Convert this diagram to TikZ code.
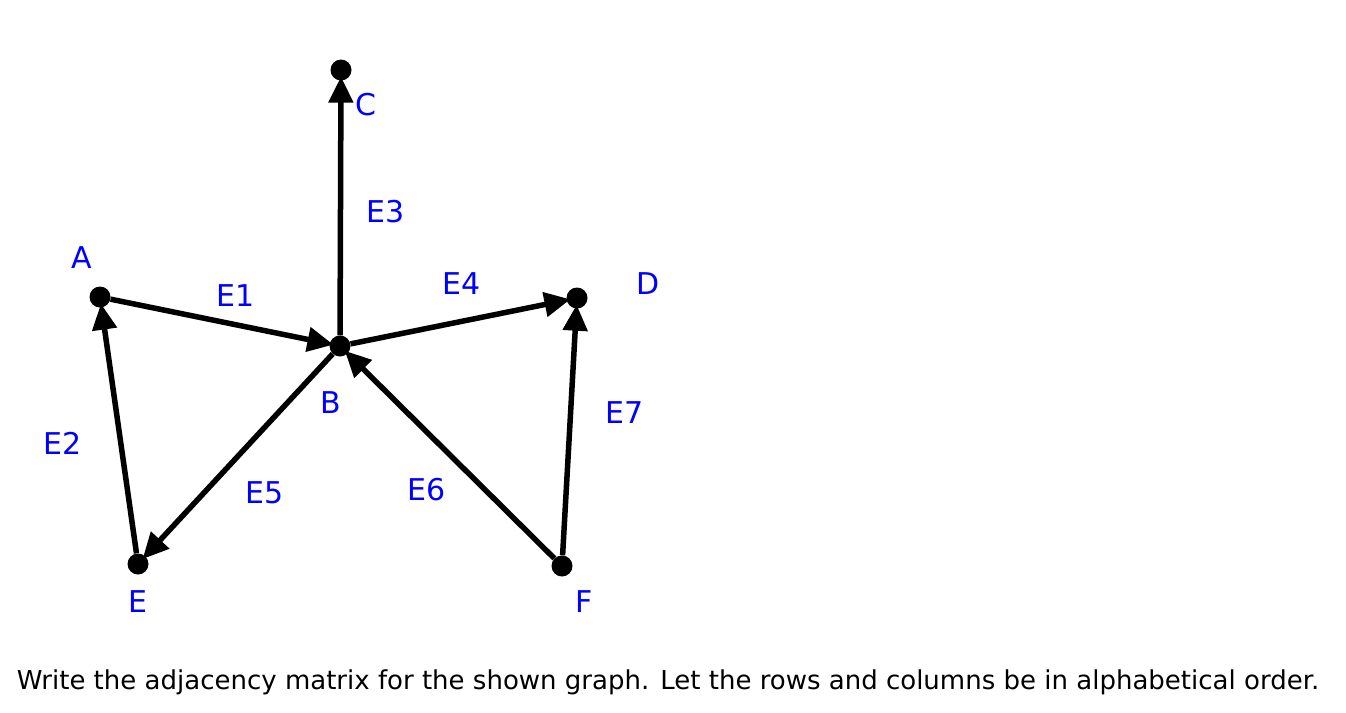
\documentclass[tikz,border=0pt]{standalone}
\usepackage{fontspec}
\setmainfont{DejaVu Sans}
\usetikzlibrary{arrows.meta}
\begin{document}
\begin{tikzpicture}[x=1pt,y=-1pt,
  vert/.style={circle,fill=black,inner sep=0pt,minimum size=21pt},
  lab/.style={text=blue,font=\fontsize{30}{30}\selectfont,inner sep=0pt},
  edge/.style={line width=5.5pt,-{Triangle[length=26pt,width=24pt]},shorten >=-4pt}]
\useasboundingbox (0,0) rectangle (1346,712);
\node[vert] (A) at (100,297) {};
\node[vert] (B) at (340,346) {};
\node[vert] (C) at (341,70) {};
\node[vert] (D) at (577,298) {};
\node[vert] (E) at (138,564) {};
\node[vert] (F) at (562,566) {};
\draw[edge] (A) -- (B);
\draw[edge] (E) -- (A);
\draw[edge] (B) -- (C);
\draw[edge] (B) -- (D);
\draw[edge] (B) -- (E);
\draw[edge] (F) -- (B);
\draw[edge] (F) -- (D);
\node[lab] (lA) at (82,258) {A};
\node[lab] (lB) at (331,403) {B};
\node[lab] (lC) at (366,105) {C};
\node[lab] (lD) at (648,284) {D};
\node[lab] (lE) at (138,602) {E};
\node[lab] (lF) at (584,602) {F};
\node[lab] (e1) at (236,296) {E1};
\node[lab] (e2) at (63,443) {E2};
\node[lab] (e3) at (386,212) {E3};
\node[lab] (e4) at (462,284) {E4};
\node[lab] (e5) at (265,493) {E5};
\node[lab] (e6) at (427,490) {E6};
\node[lab] (e7) at (625,413) {E7};
\node[font=\fontsize{26}{26}\selectfont,inner sep=0pt] (q) at (668,682) {Write the adjacency matrix for the shown graph. Let the rows and columns be in alphabetical order.};
\end{tikzpicture}
\end{document}
